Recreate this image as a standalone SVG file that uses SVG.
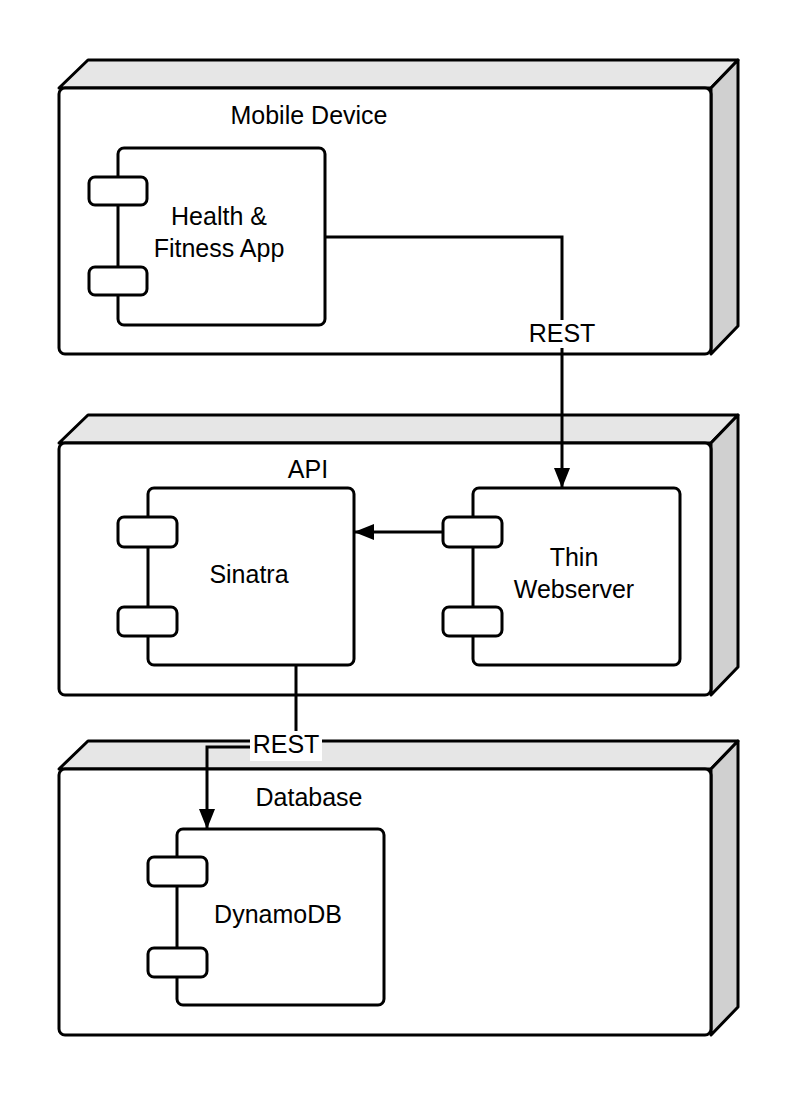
<svg xmlns="http://www.w3.org/2000/svg" width="800" height="1096" viewBox="0 0 800 1096">
<style>
.f{fill:#fff;stroke:#000;stroke-width:3;stroke-linejoin:round}
.t{fill:#e6e6e6;stroke:#000;stroke-width:3;stroke-linejoin:round}
.r{fill:#d0d0d0;stroke:#000;stroke-width:3;stroke-linejoin:round}
.c{fill:none;stroke:#000;stroke-width:3}
text{font-family:"Liberation Sans",Arial,sans-serif;font-size:25px;text-anchor:middle}
</style>
<defs>
<marker id="a" markerWidth="20" markerHeight="16" refX="20" refY="8" orient="auto" markerUnits="userSpaceOnUse" viewBox="0 0 20 16"><path d="M0,0 L20,8 L0,16z" fill="#000"/></marker>
</defs>
<rect width="800" height="1096" fill="#fff"/>
<g id="mobile">
<path class="t" d="M59,88 L88,60 L738,60 L711,88 Z"/>
<path class="r" d="M711,88 L738,60 L738,326 L711,354 Z"/>
<rect class="f" x="59" y="88" width="652" height="266" rx="6"/>
<text x="309" y="124">Mobile Device</text>
</g>
<g id="api">
<path class="t" d="M59,443 L88,415 L738,415 L711,443 Z"/>
<path class="r" d="M711,443 L738,415 L738,667 L711,695 Z"/>
<rect class="f" x="59" y="443" width="652" height="252" rx="6"/>
<text x="308" y="478">API</text>
</g>
<g id="database">
<path class="t" d="M59,769 L88,741 L738,741 L711,769 Z"/>
<path class="r" d="M711,769 L738,741 L738,1007 L711,1035 Z"/>
<rect class="f" x="59" y="769" width="652" height="266" rx="6"/>
<text x="309" y="806">Database</text>
</g>
<g id="health">
<rect class="f" x="118" y="148" width="207" height="177" rx="6"/>
<rect class="f" x="89" y="177" width="58" height="28" rx="6"/>
<rect class="f" x="89" y="267" width="58" height="28" rx="6"/>
<text x="219" y="225">Health &amp;</text>
<text x="219" y="257">Fitness App</text>
</g>
<g id="sinatra">
<rect class="f" x="148" y="488" width="206" height="177" rx="6"/>
<rect class="f" x="118" y="517" width="59" height="30" rx="6"/>
<rect class="f" x="118" y="607" width="59" height="29" rx="6"/>
<text x="249" y="583">Sinatra</text>
</g>
<g id="thin">
<rect class="f" x="473" y="488" width="207" height="177" rx="6"/>
<rect class="f" x="443" y="517" width="59" height="30" rx="6"/>
<rect class="f" x="443" y="607" width="59" height="29" rx="6"/>
<text x="574" y="566">Thin</text>
<text x="574" y="598">Webserver</text>
</g>
<g id="dynamodb">
<rect class="f" x="177" y="829" width="207" height="176" rx="6"/>
<rect class="f" x="148" y="857" width="59" height="29" rx="6"/>
<rect class="f" x="148" y="948" width="59" height="29" rx="6"/>
<text x="278" y="923">DynamoDB</text>
</g>
<g id="connectors">
<path class="c" d="M325,237 L562,237 L562,488" marker-end="url(#a)"/>
<rect x="524" y="320" width="76" height="28" fill="#fff"/>
<text x="562" y="342">REST</text>
<path class="c" d="M443,532 L354,532" marker-end="url(#a)"/>
<path class="c" d="M296,665 L296,747 L207,747 L207,829" marker-end="url(#a)"/>
<rect x="250" y="731" width="72" height="30" fill="#fff"/>
<text x="286" y="753">REST</text>
</g>
</svg>
